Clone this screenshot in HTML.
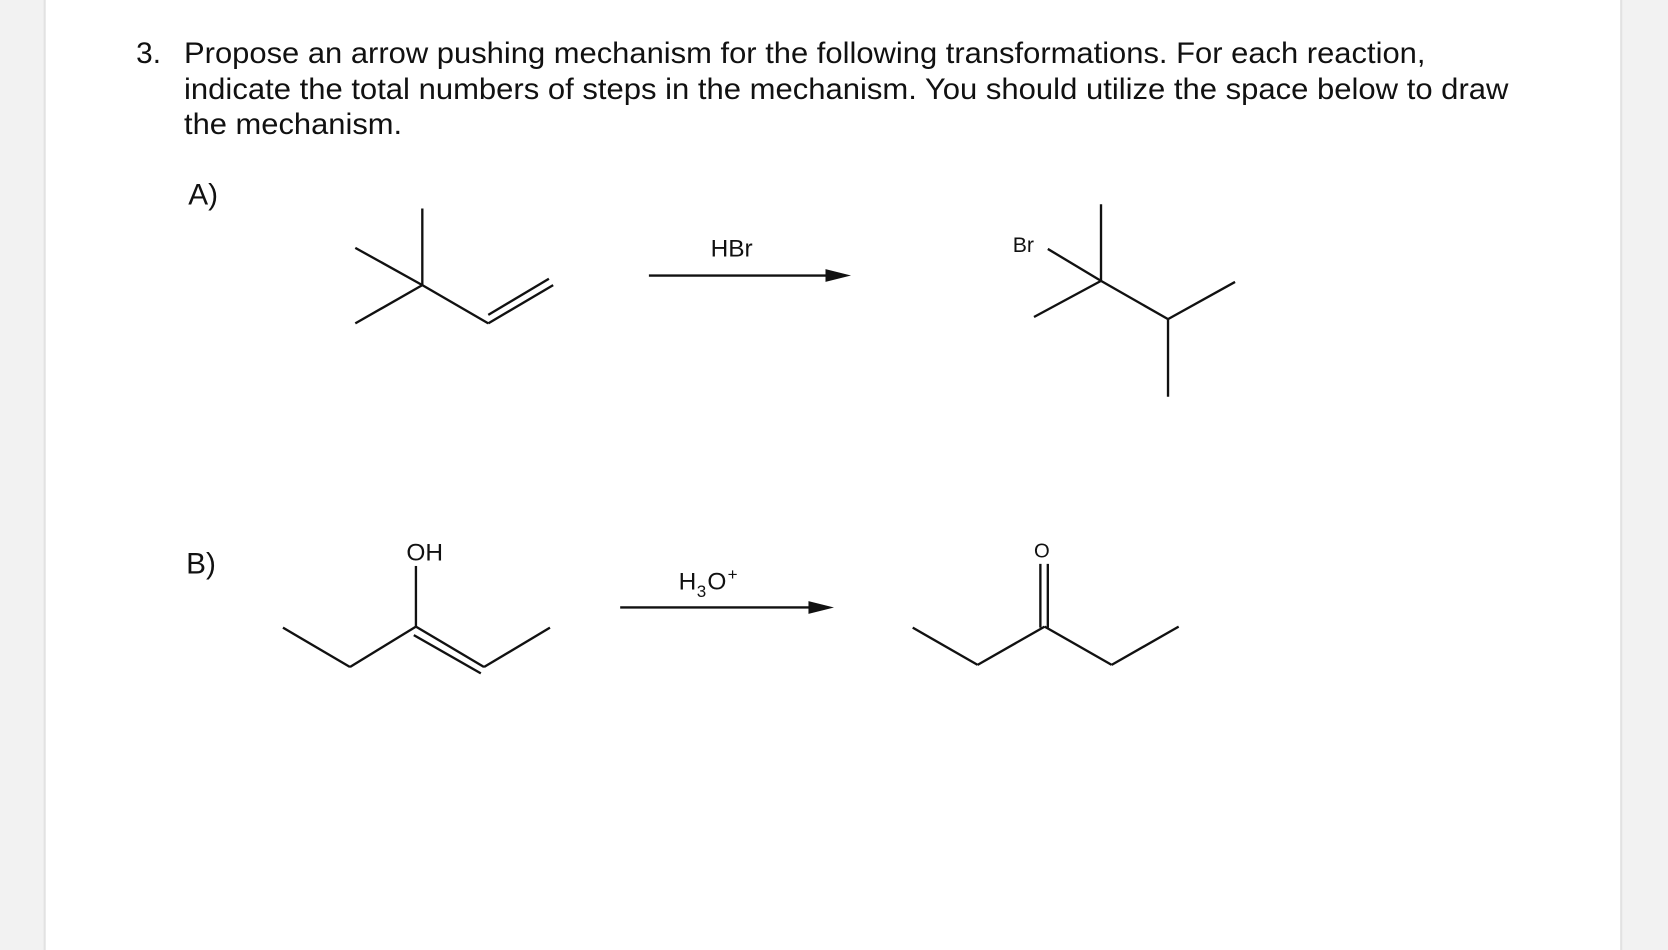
<!DOCTYPE html>
<html><head><meta charset="utf-8"><style>
html,body{margin:0;padding:0;background:#f2f2f2;}
svg{display:block;}
text{font-family:"Liberation Sans",Arial,sans-serif;fill:#111;}
</style></head><body>
<svg width="1668" height="950" viewBox="0 0 1568 893" preserveAspectRatio="none" xmlns="http://www.w3.org/2000/svg">
<rect x="0" y="0" width="1568" height="893" fill="#f2f2f2"/>
<rect x="42" y="0" width="1482" height="893" fill="#ffffff"/>
<line x1="42" y1="0" x2="42" y2="893" stroke="#e2e2e2" stroke-width="2"/>
<line x1="1524" y1="0" x2="1524" y2="893" stroke="#e2e2e2" stroke-width="2"/>
<g font-size="28">
<text x="128" y="59">3.</text>
<text x="173" y="59" textLength="1167" lengthAdjust="spacingAndGlyphs">Propose an arrow pushing mechanism for the following transformations. For each reaction,</text>
<text x="173" y="93" textLength="1245" lengthAdjust="spacingAndGlyphs">indicate the total numbers of steps in the mechanism. You should utilize the space below to draw</text>
<text x="173" y="126" textLength="205" lengthAdjust="spacingAndGlyphs">the mechanism.</text>
<text x="177" y="192">A)</text>
<text x="175" y="539">B)</text>
</g>
<g stroke="#111" stroke-width="2.2" fill="none">
<line x1="397" y1="196" x2="397" y2="268"/>
<line x1="334" y1="233" x2="397" y2="268"/>
<line x1="334" y1="304" x2="397" y2="268"/>
<line x1="397" y1="268" x2="459" y2="304"/>
<line x1="459" y1="304" x2="520" y2="268"/>
<line x1="459" y1="296" x2="516" y2="262"/>
<line x1="610" y1="259" x2="780" y2="259"/>
<line x1="1035" y1="192" x2="1035" y2="264"/>
<line x1="985" y1="234" x2="1035" y2="264"/>
<line x1="972" y1="298" x2="1035" y2="264"/>
<line x1="1035" y1="264" x2="1098" y2="300"/>
<line x1="1098" y1="300" x2="1161" y2="265"/>
<line x1="1098" y1="300" x2="1098" y2="373"/>
<line x1="391" y1="532" x2="391" y2="589"/>
<line x1="266" y1="590" x2="329" y2="627"/>
<line x1="329" y1="627" x2="391" y2="589"/>
<line x1="391" y1="589" x2="455" y2="627"/>
<line x1="389" y1="597" x2="452" y2="633"/>
<line x1="455" y1="627" x2="517" y2="590"/>
<line x1="583" y1="571" x2="765" y2="571"/>
<line x1="858" y1="590" x2="919" y2="625"/>
<line x1="919" y1="625" x2="982" y2="589"/>
<line x1="982" y1="589" x2="1045" y2="625"/>
<line x1="1045" y1="625" x2="1108" y2="589"/>
<line x1="978" y1="530" x2="978" y2="590"/>
<line x1="985" y1="530" x2="985" y2="590"/>
</g>
<polygon points="800,259 776,253 776,265" fill="#111"/>
<polygon points="784,571 760,565 760,577" fill="#111"/>
<g font-size="23">
<text x="668" y="241">HBr</text>
<text x="382" y="527">OH</text>
<text x="638" y="554">H</text><text x="655" y="561" font-size="16">3</text><text x="665" y="554">O</text><text x="684" y="545" font-size="16">+</text>
</g>
<text x="952" y="237" font-size="20">Br</text>
<text x="972" y="524" font-size="19">O</text>
</svg>
</body></html>
